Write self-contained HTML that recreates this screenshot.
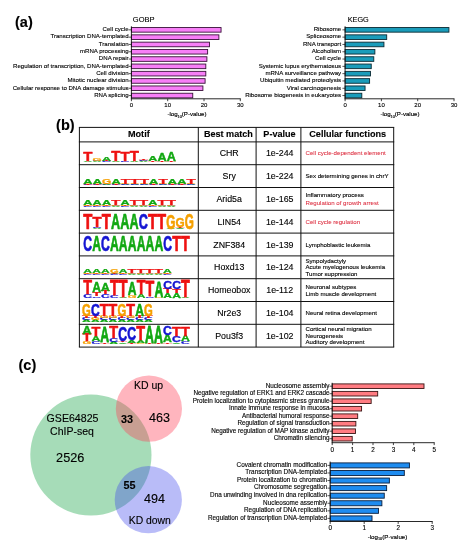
<!DOCTYPE html>
<html lang="en"><head><meta charset="utf-8"><title>Figure</title>
<style>html,body{margin:0;padding:0;background:#fff;}body{width:470px;height:550px;overflow:hidden;}svg{display:block;}text{font-family:'Liberation Sans', Arial, sans-serif;}</style>
</head><body>
<svg width="470" height="550" viewBox="0 0 470 550">
<rect x="0" y="0" width="470" height="550" fill="#ffffff"/>
<text x="15.00" y="26.90" font-size="14.5" text-anchor="start" font-weight="bold" fill="#000" stroke="#000" stroke-width="0.12" >(a)</text>
<text x="56.10" y="129.90" font-size="14.5" text-anchor="start" font-weight="bold" fill="#000" stroke="#000" stroke-width="0.12" >(b)</text>
<text x="18.50" y="369.50" font-size="14.5" text-anchor="start" font-weight="bold" fill="#000" stroke="#000" stroke-width="0.12" >(c)</text>
<rect x="131.40" y="27.55" width="89.66" height="4.60" fill="#f77ff7" stroke="#3a123a" stroke-width="0.9"/>
<line x1="128.70" y1="29.85" x2="131.40" y2="29.85" stroke="#111" stroke-width="0.7"/>
<text x="128.60" y="31.13" font-size="6.08" text-anchor="end" font-weight="normal" fill="#000" stroke="#000" stroke-width="0.12" >Cell cycle</text>
<rect x="131.40" y="34.85" width="87.48" height="4.60" fill="#f77ff7" stroke="#3a123a" stroke-width="0.9"/>
<line x1="128.70" y1="37.15" x2="131.40" y2="37.15" stroke="#111" stroke-width="0.7"/>
<text x="128.60" y="38.43" font-size="6.08" text-anchor="end" font-weight="normal" fill="#000" stroke="#000" stroke-width="0.12" >Transcription DNA-templated</text>
<rect x="131.40" y="42.15" width="78.05" height="4.60" fill="#f77ff7" stroke="#3a123a" stroke-width="0.9"/>
<line x1="128.70" y1="44.45" x2="131.40" y2="44.45" stroke="#111" stroke-width="0.7"/>
<text x="128.60" y="45.73" font-size="6.08" text-anchor="end" font-weight="normal" fill="#000" stroke="#000" stroke-width="0.12" >Translation</text>
<rect x="131.40" y="49.45" width="76.23" height="4.60" fill="#f77ff7" stroke="#3a123a" stroke-width="0.9"/>
<line x1="128.70" y1="51.75" x2="131.40" y2="51.75" stroke="#111" stroke-width="0.7"/>
<text x="128.60" y="53.03" font-size="6.08" text-anchor="end" font-weight="normal" fill="#000" stroke="#000" stroke-width="0.12" >mRNA processing</text>
<rect x="131.40" y="56.75" width="75.50" height="4.60" fill="#f77ff7" stroke="#3a123a" stroke-width="0.9"/>
<line x1="128.70" y1="59.05" x2="131.40" y2="59.05" stroke="#111" stroke-width="0.7"/>
<text x="128.60" y="60.33" font-size="6.08" text-anchor="end" font-weight="normal" fill="#000" stroke="#000" stroke-width="0.12" >DNA repair</text>
<rect x="131.40" y="64.05" width="74.41" height="4.60" fill="#f77ff7" stroke="#3a123a" stroke-width="0.9"/>
<line x1="128.70" y1="66.35" x2="131.40" y2="66.35" stroke="#111" stroke-width="0.7"/>
<text x="128.60" y="67.63" font-size="6.08" text-anchor="end" font-weight="normal" fill="#000" stroke="#000" stroke-width="0.12" >Regulation of transcription, DNA-templated</text>
<rect x="131.40" y="71.35" width="74.41" height="4.60" fill="#f77ff7" stroke="#3a123a" stroke-width="0.9"/>
<line x1="128.70" y1="73.65" x2="131.40" y2="73.65" stroke="#111" stroke-width="0.7"/>
<text x="128.60" y="74.93" font-size="6.08" text-anchor="end" font-weight="normal" fill="#000" stroke="#000" stroke-width="0.12" >Cell division</text>
<rect x="131.40" y="78.65" width="73.69" height="4.60" fill="#f77ff7" stroke="#3a123a" stroke-width="0.9"/>
<line x1="128.70" y1="80.95" x2="131.40" y2="80.95" stroke="#111" stroke-width="0.7"/>
<text x="128.60" y="82.23" font-size="6.08" text-anchor="end" font-weight="normal" fill="#000" stroke="#000" stroke-width="0.12" >Mitotic nuclear division</text>
<rect x="131.40" y="85.95" width="71.51" height="4.60" fill="#f77ff7" stroke="#3a123a" stroke-width="0.9"/>
<line x1="128.70" y1="88.25" x2="131.40" y2="88.25" stroke="#111" stroke-width="0.7"/>
<text x="128.60" y="89.53" font-size="6.08" text-anchor="end" font-weight="normal" fill="#000" stroke="#000" stroke-width="0.12" >Cellular response to DNA damage stimulus</text>
<rect x="131.40" y="93.25" width="61.35" height="4.60" fill="#f77ff7" stroke="#3a123a" stroke-width="0.9"/>
<line x1="128.70" y1="95.55" x2="131.40" y2="95.55" stroke="#111" stroke-width="0.7"/>
<text x="128.60" y="96.83" font-size="6.08" text-anchor="end" font-weight="normal" fill="#000" stroke="#000" stroke-width="0.12" >RNA splicing</text>
<line x1="131.40" y1="26.30" x2="131.40" y2="99.25" stroke="#111" stroke-width="0.9"/>
<line x1="130.95" y1="98.80" x2="240.75" y2="98.80" stroke="#111" stroke-width="0.9"/>
<line x1="131.40" y1="98.80" x2="131.40" y2="101.20" stroke="#111" stroke-width="0.8"/>
<text x="131.40" y="106.60" font-size="6.0" text-anchor="middle" font-weight="normal" fill="#000" stroke="#000" stroke-width="0.12" >0</text>
<line x1="167.70" y1="98.80" x2="167.70" y2="101.20" stroke="#111" stroke-width="0.8"/>
<text x="167.70" y="106.60" font-size="6.0" text-anchor="middle" font-weight="normal" fill="#000" stroke="#000" stroke-width="0.12" >10</text>
<line x1="204.00" y1="98.80" x2="204.00" y2="101.20" stroke="#111" stroke-width="0.8"/>
<text x="204.00" y="106.60" font-size="6.0" text-anchor="middle" font-weight="normal" fill="#000" stroke="#000" stroke-width="0.12" >20</text>
<line x1="240.30" y1="98.80" x2="240.30" y2="101.20" stroke="#111" stroke-width="0.8"/>
<text x="240.30" y="106.60" font-size="6.0" text-anchor="middle" font-weight="normal" fill="#000" stroke="#000" stroke-width="0.12" >30</text>
<text x="187.00" y="116.30" font-size="6.1" text-anchor="middle" fill="#000" stroke="#000" stroke-width="0.15">-log<tspan font-size="3.78" dy="1.34">10</tspan><tspan dy="-1.34">(P-value)</tspan></text>
<text x="132.80" y="21.50" font-size="7.5" text-anchor="start" font-weight="normal" fill="#000" stroke="#000" stroke-width="0.12" >GOBP</text>
<rect x="345.10" y="27.55" width="103.82" height="4.60" fill="#1a9cba" stroke="#0a2a33" stroke-width="0.9"/>
<line x1="342.40" y1="29.85" x2="345.10" y2="29.85" stroke="#111" stroke-width="0.7"/>
<text x="341.10" y="31.13" font-size="6.08" text-anchor="end" font-weight="normal" fill="#000" stroke="#000" stroke-width="0.12" >Ribosome</text>
<rect x="345.10" y="34.85" width="41.60" height="4.60" fill="#1a9cba" stroke="#0a2a33" stroke-width="0.9"/>
<line x1="342.40" y1="37.15" x2="345.10" y2="37.15" stroke="#111" stroke-width="0.7"/>
<text x="341.10" y="38.43" font-size="6.08" text-anchor="end" font-weight="normal" fill="#000" stroke="#000" stroke-width="0.12" >Spliceosome</text>
<rect x="345.10" y="42.15" width="38.84" height="4.60" fill="#1a9cba" stroke="#0a2a33" stroke-width="0.9"/>
<line x1="342.40" y1="44.45" x2="345.10" y2="44.45" stroke="#111" stroke-width="0.7"/>
<text x="341.10" y="45.73" font-size="6.08" text-anchor="end" font-weight="normal" fill="#000" stroke="#000" stroke-width="0.12" >RNA transport</text>
<rect x="345.10" y="49.45" width="29.77" height="4.60" fill="#1a9cba" stroke="#0a2a33" stroke-width="0.9"/>
<line x1="342.40" y1="51.75" x2="345.10" y2="51.75" stroke="#111" stroke-width="0.7"/>
<text x="341.10" y="53.03" font-size="6.08" text-anchor="end" font-weight="normal" fill="#000" stroke="#000" stroke-width="0.12" >Alcoholism</text>
<rect x="345.10" y="56.75" width="28.68" height="4.60" fill="#1a9cba" stroke="#0a2a33" stroke-width="0.9"/>
<line x1="342.40" y1="59.05" x2="345.10" y2="59.05" stroke="#111" stroke-width="0.7"/>
<text x="341.10" y="60.33" font-size="6.08" text-anchor="end" font-weight="normal" fill="#000" stroke="#000" stroke-width="0.12" >Cell cycle</text>
<rect x="345.10" y="64.05" width="26.14" height="4.60" fill="#1a9cba" stroke="#0a2a33" stroke-width="0.9"/>
<line x1="342.40" y1="66.35" x2="345.10" y2="66.35" stroke="#111" stroke-width="0.7"/>
<text x="341.10" y="67.63" font-size="6.08" text-anchor="end" font-weight="normal" fill="#000" stroke="#000" stroke-width="0.12" >Systemic lupus erythematosus</text>
<rect x="345.10" y="71.35" width="25.41" height="4.60" fill="#1a9cba" stroke="#0a2a33" stroke-width="0.9"/>
<line x1="342.40" y1="73.65" x2="345.10" y2="73.65" stroke="#111" stroke-width="0.7"/>
<text x="341.10" y="74.93" font-size="6.08" text-anchor="end" font-weight="normal" fill="#000" stroke="#000" stroke-width="0.12" >mRNA surveillance pathway</text>
<rect x="345.10" y="78.65" width="24.50" height="4.60" fill="#1a9cba" stroke="#0a2a33" stroke-width="0.9"/>
<line x1="342.40" y1="80.95" x2="345.10" y2="80.95" stroke="#111" stroke-width="0.7"/>
<text x="341.10" y="82.23" font-size="6.08" text-anchor="end" font-weight="normal" fill="#000" stroke="#000" stroke-width="0.12" >Ubiquitin mediated proteolysis</text>
<rect x="345.10" y="85.95" width="19.96" height="4.60" fill="#1a9cba" stroke="#0a2a33" stroke-width="0.9"/>
<line x1="342.40" y1="88.25" x2="345.10" y2="88.25" stroke="#111" stroke-width="0.7"/>
<text x="341.10" y="89.53" font-size="6.08" text-anchor="end" font-weight="normal" fill="#000" stroke="#000" stroke-width="0.12" >Viral carcinogenesis</text>
<rect x="345.10" y="93.25" width="16.70" height="4.60" fill="#1a9cba" stroke="#0a2a33" stroke-width="0.9"/>
<line x1="342.40" y1="95.55" x2="345.10" y2="95.55" stroke="#111" stroke-width="0.7"/>
<text x="341.10" y="96.83" font-size="6.08" text-anchor="end" font-weight="normal" fill="#000" stroke="#000" stroke-width="0.12" >Ribosome biogenesis in eukaryotes</text>
<line x1="345.10" y1="26.30" x2="345.10" y2="99.25" stroke="#111" stroke-width="0.9"/>
<line x1="344.65" y1="98.80" x2="454.45" y2="98.80" stroke="#111" stroke-width="0.9"/>
<line x1="345.10" y1="98.80" x2="345.10" y2="101.20" stroke="#111" stroke-width="0.8"/>
<text x="345.10" y="106.60" font-size="6.0" text-anchor="middle" font-weight="normal" fill="#000" stroke="#000" stroke-width="0.12" >0</text>
<line x1="381.40" y1="98.80" x2="381.40" y2="101.20" stroke="#111" stroke-width="0.8"/>
<text x="381.40" y="106.60" font-size="6.0" text-anchor="middle" font-weight="normal" fill="#000" stroke="#000" stroke-width="0.12" >10</text>
<line x1="417.70" y1="98.80" x2="417.70" y2="101.20" stroke="#111" stroke-width="0.8"/>
<text x="417.70" y="106.60" font-size="6.0" text-anchor="middle" font-weight="normal" fill="#000" stroke="#000" stroke-width="0.12" >20</text>
<line x1="454.00" y1="98.80" x2="454.00" y2="101.20" stroke="#111" stroke-width="0.8"/>
<text x="454.00" y="106.60" font-size="6.0" text-anchor="middle" font-weight="normal" fill="#000" stroke="#000" stroke-width="0.12" >30</text>
<text x="400.00" y="116.30" font-size="6.1" text-anchor="middle" fill="#000" stroke="#000" stroke-width="0.15">-log<tspan font-size="3.78" dy="1.34">10</tspan><tspan dy="-1.34">(P-value)</tspan></text>
<text x="347.70" y="21.90" font-size="7.3" text-anchor="start" font-weight="normal" fill="#000" stroke="#000" stroke-width="0.12" >KEGG</text>
<rect x="332.20" y="383.90" width="91.80" height="4.60" fill="#ff7c82" stroke="#3a1414" stroke-width="0.9"/>
<line x1="329.50" y1="386.20" x2="332.20" y2="386.20" stroke="#111" stroke-width="0.7"/>
<text x="329.50" y="387.53" font-size="6.35" text-anchor="end" font-weight="normal" fill="#000" stroke="#000" stroke-width="0.12" >Nucleosome assembly</text>
<rect x="332.20" y="391.40" width="45.49" height="4.60" fill="#ff7c82" stroke="#3a1414" stroke-width="0.9"/>
<line x1="329.50" y1="393.70" x2="332.20" y2="393.70" stroke="#111" stroke-width="0.7"/>
<text x="329.50" y="395.03" font-size="6.35" text-anchor="end" font-weight="normal" fill="#000" stroke="#000" stroke-width="0.12" >Negative regulation of ERK1 and ERK2 cascade</text>
<rect x="332.20" y="398.90" width="38.96" height="4.60" fill="#ff7c82" stroke="#3a1414" stroke-width="0.9"/>
<line x1="329.50" y1="401.20" x2="332.20" y2="401.20" stroke="#111" stroke-width="0.7"/>
<text x="329.50" y="402.53" font-size="6.35" text-anchor="end" font-weight="normal" fill="#000" stroke="#000" stroke-width="0.12" >Protein localization to cytoplasmic stress granule</text>
<rect x="332.20" y="406.40" width="29.38" height="4.60" fill="#ff7c82" stroke="#3a1414" stroke-width="0.9"/>
<line x1="329.50" y1="408.70" x2="332.20" y2="408.70" stroke="#111" stroke-width="0.7"/>
<text x="329.50" y="410.03" font-size="6.35" text-anchor="end" font-weight="normal" fill="#000" stroke="#000" stroke-width="0.12" >Innate immune response in mucosa</text>
<rect x="332.20" y="413.90" width="25.50" height="4.60" fill="#ff7c82" stroke="#3a1414" stroke-width="0.9"/>
<line x1="329.50" y1="416.20" x2="332.20" y2="416.20" stroke="#111" stroke-width="0.7"/>
<text x="329.50" y="417.53" font-size="6.35" text-anchor="end" font-weight="normal" fill="#000" stroke="#000" stroke-width="0.12" >Antibacterial humoral response</text>
<rect x="332.20" y="421.40" width="23.66" height="4.60" fill="#ff7c82" stroke="#3a1414" stroke-width="0.9"/>
<line x1="329.50" y1="423.70" x2="332.20" y2="423.70" stroke="#111" stroke-width="0.7"/>
<text x="329.50" y="425.03" font-size="6.35" text-anchor="end" font-weight="normal" fill="#000" stroke="#000" stroke-width="0.12" >Regulation of signal transduction</text>
<rect x="332.20" y="428.90" width="23.26" height="4.60" fill="#ff7c82" stroke="#3a1414" stroke-width="0.9"/>
<line x1="329.50" y1="431.20" x2="332.20" y2="431.20" stroke="#111" stroke-width="0.7"/>
<text x="329.50" y="432.53" font-size="6.35" text-anchor="end" font-weight="normal" fill="#000" stroke="#000" stroke-width="0.12" >Negative regulation of MAP kinase activity</text>
<rect x="332.20" y="436.40" width="19.99" height="4.60" fill="#ff7c82" stroke="#3a1414" stroke-width="0.9"/>
<line x1="329.50" y1="438.70" x2="332.20" y2="438.70" stroke="#111" stroke-width="0.7"/>
<text x="329.50" y="440.03" font-size="6.35" text-anchor="end" font-weight="normal" fill="#000" stroke="#000" stroke-width="0.12" >Chromatin silencing</text>
<line x1="332.20" y1="382.80" x2="332.20" y2="443.15" stroke="#111" stroke-width="0.9"/>
<line x1="331.75" y1="442.70" x2="434.65" y2="442.70" stroke="#111" stroke-width="0.9"/>
<line x1="332.20" y1="442.70" x2="332.20" y2="445.10" stroke="#111" stroke-width="0.8"/>
<text x="332.20" y="451.80" font-size="6.3" text-anchor="middle" font-weight="normal" fill="#000" stroke="#000" stroke-width="0.12" >0</text>
<line x1="352.60" y1="442.70" x2="352.60" y2="445.10" stroke="#111" stroke-width="0.8"/>
<text x="352.60" y="451.80" font-size="6.3" text-anchor="middle" font-weight="normal" fill="#000" stroke="#000" stroke-width="0.12" >1</text>
<line x1="373.00" y1="442.70" x2="373.00" y2="445.10" stroke="#111" stroke-width="0.8"/>
<text x="373.00" y="451.80" font-size="6.3" text-anchor="middle" font-weight="normal" fill="#000" stroke="#000" stroke-width="0.12" >2</text>
<line x1="393.40" y1="442.70" x2="393.40" y2="445.10" stroke="#111" stroke-width="0.8"/>
<text x="393.40" y="451.80" font-size="6.3" text-anchor="middle" font-weight="normal" fill="#000" stroke="#000" stroke-width="0.12" >3</text>
<line x1="413.80" y1="442.70" x2="413.80" y2="445.10" stroke="#111" stroke-width="0.8"/>
<text x="413.80" y="451.80" font-size="6.3" text-anchor="middle" font-weight="normal" fill="#000" stroke="#000" stroke-width="0.12" >4</text>
<line x1="434.20" y1="442.70" x2="434.20" y2="445.10" stroke="#111" stroke-width="0.8"/>
<text x="434.20" y="451.80" font-size="6.3" text-anchor="middle" font-weight="normal" fill="#000" stroke="#000" stroke-width="0.12" >5</text>
<text x="0.00" y="-100.00" font-size="5.7" text-anchor="middle" fill="#000" stroke="#000" stroke-width="0.15">-log<tspan font-size="3.53" dy="1.25">10</tspan><tspan dy="-1.25">(P-value)</tspan></text>
<rect x="330.20" y="462.90" width="79.22" height="5.00" fill="#1e8cf0" stroke="#0a1e3c" stroke-width="0.9"/>
<line x1="327.50" y1="465.40" x2="330.20" y2="465.40" stroke="#111" stroke-width="0.7"/>
<text x="327.10" y="466.74" font-size="6.37" text-anchor="end" font-weight="normal" fill="#000" stroke="#000" stroke-width="0.12" >Covalent chromatin modification</text>
<rect x="330.20" y="470.47" width="74.12" height="5.00" fill="#1e8cf0" stroke="#0a1e3c" stroke-width="0.9"/>
<line x1="327.50" y1="472.97" x2="330.20" y2="472.97" stroke="#111" stroke-width="0.7"/>
<text x="327.10" y="474.31" font-size="6.37" text-anchor="end" font-weight="normal" fill="#000" stroke="#000" stroke-width="0.12" >Transcription DNA-templated</text>
<rect x="330.20" y="478.04" width="59.16" height="5.00" fill="#1e8cf0" stroke="#0a1e3c" stroke-width="0.9"/>
<line x1="327.50" y1="480.54" x2="330.20" y2="480.54" stroke="#111" stroke-width="0.7"/>
<text x="327.10" y="481.88" font-size="6.37" text-anchor="end" font-weight="normal" fill="#000" stroke="#000" stroke-width="0.12" >Protein localization to chromatin</text>
<rect x="330.20" y="485.61" width="56.44" height="5.00" fill="#1e8cf0" stroke="#0a1e3c" stroke-width="0.9"/>
<line x1="327.50" y1="488.11" x2="330.20" y2="488.11" stroke="#111" stroke-width="0.7"/>
<text x="327.10" y="489.45" font-size="6.37" text-anchor="end" font-weight="normal" fill="#000" stroke="#000" stroke-width="0.12" >Chromosome segregation</text>
<rect x="330.20" y="493.18" width="54.06" height="5.00" fill="#1e8cf0" stroke="#0a1e3c" stroke-width="0.9"/>
<line x1="327.50" y1="495.68" x2="330.20" y2="495.68" stroke="#111" stroke-width="0.7"/>
<text x="327.10" y="497.02" font-size="6.37" text-anchor="end" font-weight="normal" fill="#000" stroke="#000" stroke-width="0.12" >Dna unwinding involved in dna replication</text>
<rect x="330.20" y="500.75" width="51.68" height="5.00" fill="#1e8cf0" stroke="#0a1e3c" stroke-width="0.9"/>
<line x1="327.50" y1="503.25" x2="330.20" y2="503.25" stroke="#111" stroke-width="0.7"/>
<text x="327.10" y="504.59" font-size="6.37" text-anchor="end" font-weight="normal" fill="#000" stroke="#000" stroke-width="0.12" >Nucleosome assembly</text>
<rect x="330.20" y="508.32" width="48.28" height="5.00" fill="#1e8cf0" stroke="#0a1e3c" stroke-width="0.9"/>
<line x1="327.50" y1="510.82" x2="330.20" y2="510.82" stroke="#111" stroke-width="0.7"/>
<text x="327.10" y="512.16" font-size="6.37" text-anchor="end" font-weight="normal" fill="#000" stroke="#000" stroke-width="0.12" >Regulation of DNA replication</text>
<rect x="330.20" y="515.89" width="41.82" height="5.00" fill="#1e8cf0" stroke="#0a1e3c" stroke-width="0.9"/>
<line x1="327.50" y1="518.39" x2="330.20" y2="518.39" stroke="#111" stroke-width="0.7"/>
<text x="327.10" y="519.73" font-size="6.37" text-anchor="end" font-weight="normal" fill="#000" stroke="#000" stroke-width="0.12" >Regulation of transcription DNA-templated</text>
<line x1="330.20" y1="461.60" x2="330.20" y2="521.95" stroke="#111" stroke-width="0.9"/>
<line x1="329.75" y1="521.50" x2="432.65" y2="521.50" stroke="#111" stroke-width="0.9"/>
<line x1="330.20" y1="521.50" x2="330.20" y2="523.90" stroke="#111" stroke-width="0.8"/>
<text x="330.20" y="530.00" font-size="6.3" text-anchor="middle" font-weight="normal" fill="#000" stroke="#000" stroke-width="0.12" >0</text>
<line x1="364.20" y1="521.50" x2="364.20" y2="523.90" stroke="#111" stroke-width="0.8"/>
<text x="364.20" y="530.00" font-size="6.3" text-anchor="middle" font-weight="normal" fill="#000" stroke="#000" stroke-width="0.12" >1</text>
<line x1="398.20" y1="521.50" x2="398.20" y2="523.90" stroke="#111" stroke-width="0.8"/>
<text x="398.20" y="530.00" font-size="6.3" text-anchor="middle" font-weight="normal" fill="#000" stroke="#000" stroke-width="0.12" >2</text>
<line x1="432.20" y1="521.50" x2="432.20" y2="523.90" stroke="#111" stroke-width="0.8"/>
<text x="432.20" y="530.00" font-size="6.3" text-anchor="middle" font-weight="normal" fill="#000" stroke="#000" stroke-width="0.12" >3</text>
<text x="387.50" y="538.80" font-size="6.2" text-anchor="middle" fill="#000" stroke="#000" stroke-width="0.15">-log<tspan font-size="3.84" dy="1.36">10</tspan><tspan dy="-1.36">(P-value)</tspan></text>
<g>
<circle cx="90.9" cy="455" r="60.6" fill="rgb(77,185,113)" fill-opacity="0.5"/>
<circle cx="148.9" cy="408.7" r="33.1" fill="rgb(255,60,85)" fill-opacity="0.38"/>
<circle cx="148.3" cy="499.7" r="33.6" fill="rgb(60,70,235)" fill-opacity="0.36"/>
</g>
<text x="72.50" y="421.90" font-size="10.6" text-anchor="middle" font-weight="normal" fill="#000" stroke="#000" stroke-width="0.12" >GSE64825</text>
<text x="72.00" y="434.50" font-size="10.5" text-anchor="middle" font-weight="normal" fill="#000" stroke="#000" stroke-width="0.12" >ChIP-seq</text>
<text x="70.20" y="462.10" font-size="12.7" text-anchor="middle" font-weight="normal" fill="#000" stroke="#000" stroke-width="0.12" >2526</text>
<text x="148.60" y="389.10" font-size="10.5" text-anchor="middle" font-weight="normal" fill="#000" stroke="#000" stroke-width="0.12" >KD up</text>
<text x="127.00" y="422.60" font-size="10.8" text-anchor="middle" font-weight="bold" fill="#000" stroke="#000" stroke-width="0.12" >33</text>
<text x="159.40" y="421.70" font-size="12.6" text-anchor="middle" font-weight="normal" fill="#000" stroke="#000" stroke-width="0.12" >463</text>
<text x="129.60" y="489.40" font-size="10.8" text-anchor="middle" font-weight="bold" fill="#000" stroke="#000" stroke-width="0.12" >55</text>
<text x="154.60" y="502.50" font-size="12.6" text-anchor="middle" font-weight="normal" fill="#000" stroke="#000" stroke-width="0.12" >494</text>
<text x="149.80" y="523.80" font-size="10.4" text-anchor="middle" font-weight="normal" fill="#000" stroke="#000" stroke-width="0.12" >KD down</text>
<line x1="78.9" y1="127.40" x2="394.2" y2="127.40" stroke="#111" stroke-width="1"/>
<line x1="78.9" y1="141.90" x2="394.2" y2="141.90" stroke="#111" stroke-width="1"/>
<line x1="78.9" y1="164.70" x2="394.2" y2="164.70" stroke="#111" stroke-width="1"/>
<line x1="78.9" y1="187.50" x2="394.2" y2="187.50" stroke="#111" stroke-width="1"/>
<line x1="78.9" y1="210.30" x2="394.2" y2="210.30" stroke="#111" stroke-width="1"/>
<line x1="78.9" y1="233.10" x2="394.2" y2="233.10" stroke="#111" stroke-width="1"/>
<line x1="78.9" y1="255.90" x2="394.2" y2="255.90" stroke="#111" stroke-width="1"/>
<line x1="78.9" y1="278.70" x2="394.2" y2="278.70" stroke="#111" stroke-width="1"/>
<line x1="78.9" y1="301.50" x2="394.2" y2="301.50" stroke="#111" stroke-width="1"/>
<line x1="78.9" y1="324.30" x2="394.2" y2="324.30" stroke="#111" stroke-width="1"/>
<line x1="78.9" y1="347.10" x2="394.2" y2="347.10" stroke="#111" stroke-width="1"/>
<line x1="79.4" y1="127.40" x2="79.4" y2="347.10" stroke="#111" stroke-width="1"/>
<line x1="198.3" y1="127.40" x2="198.3" y2="347.10" stroke="#111" stroke-width="1"/>
<line x1="256.1" y1="127.40" x2="256.1" y2="347.10" stroke="#111" stroke-width="1"/>
<line x1="300.9" y1="127.40" x2="300.9" y2="347.10" stroke="#111" stroke-width="1"/>
<line x1="393.7" y1="127.40" x2="393.7" y2="347.10" stroke="#111" stroke-width="1"/>
<text x="138.85" y="137.00" font-size="9.1" text-anchor="middle" font-weight="bold" fill="#000" stroke="#000" stroke-width="0.12" >Motif</text>
<text x="228.40" y="137.00" font-size="9.1" text-anchor="middle" font-weight="bold" fill="#000" stroke="#000" stroke-width="0.12" >Best match</text>
<text x="279.50" y="137.00" font-size="9.1" text-anchor="middle" font-weight="bold" fill="#000" stroke="#000" stroke-width="0.12" >P-value</text>
<text x="347.70" y="137.00" font-size="9.1" text-anchor="middle" font-weight="bold" fill="#000" stroke="#000" stroke-width="0.12" >Cellular functions</text>
<text x="229.20" y="156.40" font-size="8.8" text-anchor="middle" font-weight="normal" fill="#000" stroke="#000" stroke-width="0.12" >CHR</text>
<text x="279.70" y="156.40" font-size="8.9" text-anchor="middle" font-weight="normal" fill="#000" stroke="#000" stroke-width="0.12" >1e-244</text>
<text x="305.50" y="155.40" font-size="6.1" text-anchor="start" font-weight="normal" fill="#dc2a3c" stroke="#dc2a3c" stroke-width="0.05" >Cell cycle-dependent element</text>
<text x="229.20" y="179.20" font-size="8.8" text-anchor="middle" font-weight="normal" fill="#000" stroke="#000" stroke-width="0.12" >Sry</text>
<text x="279.70" y="179.20" font-size="8.9" text-anchor="middle" font-weight="normal" fill="#000" stroke="#000" stroke-width="0.12" >1e-224</text>
<text x="305.50" y="178.20" font-size="6.1" text-anchor="start" font-weight="normal" fill="#000" stroke="#000" stroke-width="0.12" >Sex determining genes in chrY</text>
<text x="229.20" y="202.00" font-size="8.8" text-anchor="middle" font-weight="normal" fill="#000" stroke="#000" stroke-width="0.12" >Arid5a</text>
<text x="279.70" y="202.00" font-size="8.9" text-anchor="middle" font-weight="normal" fill="#000" stroke="#000" stroke-width="0.12" >1e-165</text>
<text x="305.50" y="197.40" font-size="6.1" text-anchor="start" font-weight="normal" fill="#000" stroke="#000" stroke-width="0.12" >Inflammatory process</text>
<text x="305.50" y="204.60" font-size="6.1" text-anchor="start" font-weight="normal" fill="#dc2a3c" stroke="#dc2a3c" stroke-width="0.05" >Regulation of growth arrest</text>
<text x="229.20" y="224.80" font-size="8.8" text-anchor="middle" font-weight="normal" fill="#000" stroke="#000" stroke-width="0.12" >LIN54</text>
<text x="279.70" y="224.80" font-size="8.9" text-anchor="middle" font-weight="normal" fill="#000" stroke="#000" stroke-width="0.12" >1e-144</text>
<text x="305.50" y="223.80" font-size="6.1" text-anchor="start" font-weight="normal" fill="#dc2a3c" stroke="#dc2a3c" stroke-width="0.05" >Cell cycle regulation</text>
<text x="229.20" y="247.60" font-size="8.8" text-anchor="middle" font-weight="normal" fill="#000" stroke="#000" stroke-width="0.12" >ZNF384</text>
<text x="279.70" y="247.60" font-size="8.9" text-anchor="middle" font-weight="normal" fill="#000" stroke="#000" stroke-width="0.12" >1e-139</text>
<text x="305.50" y="246.60" font-size="6.1" text-anchor="start" font-weight="normal" fill="#000" stroke="#000" stroke-width="0.12" >Lymphoblastic leukemia</text>
<text x="229.20" y="270.40" font-size="8.8" text-anchor="middle" font-weight="normal" fill="#000" stroke="#000" stroke-width="0.12" >Hoxd13</text>
<text x="279.70" y="270.40" font-size="8.9" text-anchor="middle" font-weight="normal" fill="#000" stroke="#000" stroke-width="0.12" >1e-124</text>
<text x="305.50" y="262.75" font-size="6.1" text-anchor="start" font-weight="normal" fill="#000" stroke="#000" stroke-width="0.12" >Synpolydactyly</text>
<text x="305.50" y="269.40" font-size="6.1" text-anchor="start" font-weight="normal" fill="#000" stroke="#000" stroke-width="0.12" >Acute myelogenous leukemia</text>
<text x="305.50" y="276.05" font-size="6.1" text-anchor="start" font-weight="normal" fill="#000" stroke="#000" stroke-width="0.12" >Tumor suppression</text>
<text x="229.20" y="293.20" font-size="8.8" text-anchor="middle" font-weight="normal" fill="#000" stroke="#000" stroke-width="0.12" >Homeobox</text>
<text x="279.70" y="293.20" font-size="8.9" text-anchor="middle" font-weight="normal" fill="#000" stroke="#000" stroke-width="0.12" >1e-112</text>
<text x="305.50" y="288.60" font-size="6.1" text-anchor="start" font-weight="normal" fill="#000" stroke="#000" stroke-width="0.12" >Neuronal subtypes</text>
<text x="305.50" y="295.80" font-size="6.1" text-anchor="start" font-weight="normal" fill="#000" stroke="#000" stroke-width="0.12" >Limb muscle development</text>
<text x="229.20" y="316.00" font-size="8.8" text-anchor="middle" font-weight="normal" fill="#000" stroke="#000" stroke-width="0.12" >Nr2e3</text>
<text x="279.70" y="316.00" font-size="8.9" text-anchor="middle" font-weight="normal" fill="#000" stroke="#000" stroke-width="0.12" >1e-104</text>
<text x="305.50" y="315.00" font-size="6.1" text-anchor="start" font-weight="normal" fill="#000" stroke="#000" stroke-width="0.12" >Neural retina development</text>
<text x="229.20" y="338.80" font-size="8.8" text-anchor="middle" font-weight="normal" fill="#000" stroke="#000" stroke-width="0.12" >Pou3f3</text>
<text x="279.70" y="338.80" font-size="8.9" text-anchor="middle" font-weight="normal" fill="#000" stroke="#000" stroke-width="0.12" >1e-102</text>
<text x="305.50" y="331.15" font-size="6.1" text-anchor="start" font-weight="normal" fill="#000" stroke="#000" stroke-width="0.12" >Cortical neural migration</text>
<text x="305.50" y="337.80" font-size="6.1" text-anchor="start" font-weight="normal" fill="#000" stroke="#000" stroke-width="0.12" >Neurogenesis</text>
<text x="305.50" y="344.45" font-size="6.1" text-anchor="start" font-weight="normal" fill="#000" stroke="#000" stroke-width="0.12" >Auditory development</text>
<text transform="translate(83.35,162.30) scale(1.270,0.131)" font-size="10" font-weight="bold" fill="#12a812" stroke="#12a812" stroke-width="0.35" stroke-linejoin="round">A</text>
<text transform="translate(83.35,161.40) scale(1.501,1.221)" font-size="10" font-weight="bold" fill="#ee1111" stroke="#ee1111" stroke-width="0.35" stroke-linejoin="round">T</text>
<text transform="translate(92.62,162.30) scale(1.270,0.131)" font-size="10" font-weight="bold" fill="#12a812" stroke="#12a812" stroke-width="0.35" stroke-linejoin="round">A</text>
<text transform="translate(92.62,161.40) scale(1.270,0.131)" font-size="10" font-weight="bold" fill="#1414d2" stroke="#1414d2" stroke-width="0.35" stroke-linejoin="round">C</text>
<text transform="translate(92.62,160.50) scale(1.179,0.291)" font-size="10" font-weight="bold" fill="#f5a000" stroke="#f5a000" stroke-width="0.35" stroke-linejoin="round">G</text>
<text transform="translate(101.89,162.30) scale(1.270,0.131)" font-size="10" font-weight="bold" fill="#1414d2" stroke="#1414d2" stroke-width="0.35" stroke-linejoin="round">C</text>
<text transform="translate(101.89,161.40) scale(1.501,0.131)" font-size="10" font-weight="bold" fill="#ee1111" stroke="#ee1111" stroke-width="0.35" stroke-linejoin="round">T</text>
<text transform="translate(101.89,160.50) scale(1.270,0.465)" font-size="10" font-weight="bold" fill="#12a812" stroke="#12a812" stroke-width="0.35" stroke-linejoin="round">A</text>
<text transform="translate(111.16,162.30) scale(1.270,0.131)" font-size="10" font-weight="bold" fill="#12a812" stroke="#12a812" stroke-width="0.35" stroke-linejoin="round">A</text>
<text transform="translate(111.16,161.40) scale(1.501,1.497)" font-size="10" font-weight="bold" fill="#ee1111" stroke="#ee1111" stroke-width="0.35" stroke-linejoin="round">T</text>
<text transform="translate(120.43,162.30) scale(1.270,0.131)" font-size="10" font-weight="bold" fill="#1414d2" stroke="#1414d2" stroke-width="0.35" stroke-linejoin="round">C</text>
<text transform="translate(120.43,161.40) scale(1.501,1.308)" font-size="10" font-weight="bold" fill="#ee1111" stroke="#ee1111" stroke-width="0.35" stroke-linejoin="round">T</text>
<text transform="translate(129.70,162.30) scale(1.270,0.131)" font-size="10" font-weight="bold" fill="#12a812" stroke="#12a812" stroke-width="0.35" stroke-linejoin="round">A</text>
<text transform="translate(129.70,161.40) scale(1.501,1.541)" font-size="10" font-weight="bold" fill="#ee1111" stroke="#ee1111" stroke-width="0.35" stroke-linejoin="round">T</text>
<text transform="translate(138.97,162.30) scale(1.270,0.131)" font-size="10" font-weight="bold" fill="#12a812" stroke="#12a812" stroke-width="0.35" stroke-linejoin="round">A</text>
<text transform="translate(138.97,161.40) scale(1.179,0.131)" font-size="10" font-weight="bold" fill="#f5a000" stroke="#f5a000" stroke-width="0.35" stroke-linejoin="round">G</text>
<text transform="translate(138.97,160.50) scale(1.270,0.145)" font-size="10" font-weight="bold" fill="#1414d2" stroke="#1414d2" stroke-width="0.35" stroke-linejoin="round">C</text>
<text transform="translate(138.97,159.50) scale(1.501,0.203)" font-size="10" font-weight="bold" fill="#ee1111" stroke="#ee1111" stroke-width="0.35" stroke-linejoin="round">T</text>
<text transform="translate(148.24,162.30) scale(1.501,0.131)" font-size="10" font-weight="bold" fill="#ee1111" stroke="#ee1111" stroke-width="0.35" stroke-linejoin="round">T</text>
<text transform="translate(148.24,161.40) scale(1.270,0.683)" font-size="10" font-weight="bold" fill="#12a812" stroke="#12a812" stroke-width="0.35" stroke-linejoin="round">A</text>
<text transform="translate(157.51,162.30) scale(1.501,0.131)" font-size="10" font-weight="bold" fill="#ee1111" stroke="#ee1111" stroke-width="0.35" stroke-linejoin="round">T</text>
<text transform="translate(157.51,161.40) scale(1.270,1.017)" font-size="10" font-weight="bold" fill="#12a812" stroke="#12a812" stroke-width="0.35" stroke-linejoin="round">A</text>
<text transform="translate(166.78,162.30) scale(1.501,0.131)" font-size="10" font-weight="bold" fill="#ee1111" stroke="#ee1111" stroke-width="0.35" stroke-linejoin="round">T</text>
<text transform="translate(166.78,161.40) scale(1.270,1.279)" font-size="10" font-weight="bold" fill="#12a812" stroke="#12a812" stroke-width="0.35" stroke-linejoin="round">A</text>
<text transform="translate(83.35,185.00) scale(1.285,0.073)" font-size="10" font-weight="bold" fill="#1414d2" stroke="#1414d2" stroke-width="0.35" stroke-linejoin="round">C</text>
<text transform="translate(83.35,184.50) scale(1.519,0.073)" font-size="10" font-weight="bold" fill="#ee1111" stroke="#ee1111" stroke-width="0.35" stroke-linejoin="round">T</text>
<text transform="translate(83.35,184.00) scale(1.193,0.073)" font-size="10" font-weight="bold" fill="#f5a000" stroke="#f5a000" stroke-width="0.35" stroke-linejoin="round">G</text>
<text transform="translate(83.35,183.50) scale(1.285,0.640)" font-size="10" font-weight="bold" fill="#12a812" stroke="#12a812" stroke-width="0.35" stroke-linejoin="round">A</text>
<text transform="translate(92.73,185.00) scale(1.285,0.073)" font-size="10" font-weight="bold" fill="#1414d2" stroke="#1414d2" stroke-width="0.35" stroke-linejoin="round">C</text>
<text transform="translate(92.73,184.50) scale(1.519,0.073)" font-size="10" font-weight="bold" fill="#ee1111" stroke="#ee1111" stroke-width="0.35" stroke-linejoin="round">T</text>
<text transform="translate(92.73,184.00) scale(1.193,0.073)" font-size="10" font-weight="bold" fill="#f5a000" stroke="#f5a000" stroke-width="0.35" stroke-linejoin="round">G</text>
<text transform="translate(92.73,183.50) scale(1.285,0.640)" font-size="10" font-weight="bold" fill="#12a812" stroke="#12a812" stroke-width="0.35" stroke-linejoin="round">A</text>
<text transform="translate(102.11,185.00) scale(1.285,0.073)" font-size="10" font-weight="bold" fill="#1414d2" stroke="#1414d2" stroke-width="0.35" stroke-linejoin="round">C</text>
<text transform="translate(102.11,184.50) scale(1.285,0.073)" font-size="10" font-weight="bold" fill="#12a812" stroke="#12a812" stroke-width="0.35" stroke-linejoin="round">A</text>
<text transform="translate(102.11,184.00) scale(1.519,0.073)" font-size="10" font-weight="bold" fill="#ee1111" stroke="#ee1111" stroke-width="0.35" stroke-linejoin="round">T</text>
<text transform="translate(102.11,183.50) scale(1.193,0.640)" font-size="10" font-weight="bold" fill="#f5a000" stroke="#f5a000" stroke-width="0.35" stroke-linejoin="round">G</text>
<text transform="translate(111.49,185.00) scale(1.285,0.073)" font-size="10" font-weight="bold" fill="#1414d2" stroke="#1414d2" stroke-width="0.35" stroke-linejoin="round">C</text>
<text transform="translate(111.49,184.50) scale(1.519,0.073)" font-size="10" font-weight="bold" fill="#ee1111" stroke="#ee1111" stroke-width="0.35" stroke-linejoin="round">T</text>
<text transform="translate(111.49,184.00) scale(1.193,0.073)" font-size="10" font-weight="bold" fill="#f5a000" stroke="#f5a000" stroke-width="0.35" stroke-linejoin="round">G</text>
<text transform="translate(111.49,183.50) scale(1.285,0.640)" font-size="10" font-weight="bold" fill="#12a812" stroke="#12a812" stroke-width="0.35" stroke-linejoin="round">A</text>
<text transform="translate(120.87,185.00) scale(1.285,0.073)" font-size="10" font-weight="bold" fill="#12a812" stroke="#12a812" stroke-width="0.35" stroke-linejoin="round">A</text>
<text transform="translate(120.87,184.50) scale(1.285,0.073)" font-size="10" font-weight="bold" fill="#1414d2" stroke="#1414d2" stroke-width="0.35" stroke-linejoin="round">C</text>
<text transform="translate(120.87,184.00) scale(1.193,0.073)" font-size="10" font-weight="bold" fill="#f5a000" stroke="#f5a000" stroke-width="0.35" stroke-linejoin="round">G</text>
<text transform="translate(120.87,183.50) scale(1.519,0.640)" font-size="10" font-weight="bold" fill="#ee1111" stroke="#ee1111" stroke-width="0.35" stroke-linejoin="round">T</text>
<text transform="translate(130.25,185.00) scale(1.285,0.073)" font-size="10" font-weight="bold" fill="#12a812" stroke="#12a812" stroke-width="0.35" stroke-linejoin="round">A</text>
<text transform="translate(130.25,184.50) scale(1.285,0.073)" font-size="10" font-weight="bold" fill="#1414d2" stroke="#1414d2" stroke-width="0.35" stroke-linejoin="round">C</text>
<text transform="translate(130.25,184.00) scale(1.193,0.073)" font-size="10" font-weight="bold" fill="#f5a000" stroke="#f5a000" stroke-width="0.35" stroke-linejoin="round">G</text>
<text transform="translate(130.25,183.50) scale(1.519,0.640)" font-size="10" font-weight="bold" fill="#ee1111" stroke="#ee1111" stroke-width="0.35" stroke-linejoin="round">T</text>
<text transform="translate(139.63,185.00) scale(1.285,0.073)" font-size="10" font-weight="bold" fill="#12a812" stroke="#12a812" stroke-width="0.35" stroke-linejoin="round">A</text>
<text transform="translate(139.63,184.50) scale(1.285,0.073)" font-size="10" font-weight="bold" fill="#1414d2" stroke="#1414d2" stroke-width="0.35" stroke-linejoin="round">C</text>
<text transform="translate(139.63,184.00) scale(1.193,0.073)" font-size="10" font-weight="bold" fill="#f5a000" stroke="#f5a000" stroke-width="0.35" stroke-linejoin="round">G</text>
<text transform="translate(139.63,183.50) scale(1.519,0.640)" font-size="10" font-weight="bold" fill="#ee1111" stroke="#ee1111" stroke-width="0.35" stroke-linejoin="round">T</text>
<text transform="translate(149.01,185.00) scale(1.285,0.073)" font-size="10" font-weight="bold" fill="#1414d2" stroke="#1414d2" stroke-width="0.35" stroke-linejoin="round">C</text>
<text transform="translate(149.01,184.50) scale(1.519,0.073)" font-size="10" font-weight="bold" fill="#ee1111" stroke="#ee1111" stroke-width="0.35" stroke-linejoin="round">T</text>
<text transform="translate(149.01,184.00) scale(1.193,0.073)" font-size="10" font-weight="bold" fill="#f5a000" stroke="#f5a000" stroke-width="0.35" stroke-linejoin="round">G</text>
<text transform="translate(149.01,183.50) scale(1.285,0.640)" font-size="10" font-weight="bold" fill="#12a812" stroke="#12a812" stroke-width="0.35" stroke-linejoin="round">A</text>
<text transform="translate(158.39,185.00) scale(1.285,0.073)" font-size="10" font-weight="bold" fill="#12a812" stroke="#12a812" stroke-width="0.35" stroke-linejoin="round">A</text>
<text transform="translate(158.39,184.50) scale(1.285,0.073)" font-size="10" font-weight="bold" fill="#1414d2" stroke="#1414d2" stroke-width="0.35" stroke-linejoin="round">C</text>
<text transform="translate(158.39,184.00) scale(1.193,0.073)" font-size="10" font-weight="bold" fill="#f5a000" stroke="#f5a000" stroke-width="0.35" stroke-linejoin="round">G</text>
<text transform="translate(158.39,183.50) scale(1.519,0.640)" font-size="10" font-weight="bold" fill="#ee1111" stroke="#ee1111" stroke-width="0.35" stroke-linejoin="round">T</text>
<text transform="translate(167.77,185.00) scale(1.285,0.073)" font-size="10" font-weight="bold" fill="#1414d2" stroke="#1414d2" stroke-width="0.35" stroke-linejoin="round">C</text>
<text transform="translate(167.77,184.50) scale(1.519,0.073)" font-size="10" font-weight="bold" fill="#ee1111" stroke="#ee1111" stroke-width="0.35" stroke-linejoin="round">T</text>
<text transform="translate(167.77,184.00) scale(1.193,0.073)" font-size="10" font-weight="bold" fill="#f5a000" stroke="#f5a000" stroke-width="0.35" stroke-linejoin="round">G</text>
<text transform="translate(167.77,183.50) scale(1.285,0.640)" font-size="10" font-weight="bold" fill="#12a812" stroke="#12a812" stroke-width="0.35" stroke-linejoin="round">A</text>
<text transform="translate(177.15,185.00) scale(1.285,0.073)" font-size="10" font-weight="bold" fill="#1414d2" stroke="#1414d2" stroke-width="0.35" stroke-linejoin="round">C</text>
<text transform="translate(177.15,184.50) scale(1.519,0.073)" font-size="10" font-weight="bold" fill="#ee1111" stroke="#ee1111" stroke-width="0.35" stroke-linejoin="round">T</text>
<text transform="translate(177.15,184.00) scale(1.193,0.073)" font-size="10" font-weight="bold" fill="#f5a000" stroke="#f5a000" stroke-width="0.35" stroke-linejoin="round">G</text>
<text transform="translate(177.15,183.50) scale(1.285,0.640)" font-size="10" font-weight="bold" fill="#12a812" stroke="#12a812" stroke-width="0.35" stroke-linejoin="round">A</text>
<text transform="translate(186.53,185.00) scale(1.285,0.073)" font-size="10" font-weight="bold" fill="#12a812" stroke="#12a812" stroke-width="0.35" stroke-linejoin="round">A</text>
<text transform="translate(186.53,184.50) scale(1.285,0.073)" font-size="10" font-weight="bold" fill="#1414d2" stroke="#1414d2" stroke-width="0.35" stroke-linejoin="round">C</text>
<text transform="translate(186.53,184.00) scale(1.193,0.073)" font-size="10" font-weight="bold" fill="#f5a000" stroke="#f5a000" stroke-width="0.35" stroke-linejoin="round">G</text>
<text transform="translate(186.53,183.50) scale(1.519,0.640)" font-size="10" font-weight="bold" fill="#ee1111" stroke="#ee1111" stroke-width="0.35" stroke-linejoin="round">T</text>
<text transform="translate(83.35,206.70) scale(1.270,0.073)" font-size="10" font-weight="bold" fill="#1414d2" stroke="#1414d2" stroke-width="0.35" stroke-linejoin="round">C</text>
<text transform="translate(83.35,206.20) scale(1.501,0.073)" font-size="10" font-weight="bold" fill="#ee1111" stroke="#ee1111" stroke-width="0.35" stroke-linejoin="round">T</text>
<text transform="translate(83.35,205.70) scale(1.179,0.073)" font-size="10" font-weight="bold" fill="#f5a000" stroke="#f5a000" stroke-width="0.35" stroke-linejoin="round">G</text>
<text transform="translate(83.35,205.20) scale(1.270,0.654)" font-size="10" font-weight="bold" fill="#12a812" stroke="#12a812" stroke-width="0.35" stroke-linejoin="round">A</text>
<text transform="translate(92.62,206.70) scale(1.270,0.073)" font-size="10" font-weight="bold" fill="#1414d2" stroke="#1414d2" stroke-width="0.35" stroke-linejoin="round">C</text>
<text transform="translate(92.62,206.20) scale(1.501,0.073)" font-size="10" font-weight="bold" fill="#ee1111" stroke="#ee1111" stroke-width="0.35" stroke-linejoin="round">T</text>
<text transform="translate(92.62,205.70) scale(1.179,0.073)" font-size="10" font-weight="bold" fill="#f5a000" stroke="#f5a000" stroke-width="0.35" stroke-linejoin="round">G</text>
<text transform="translate(92.62,205.20) scale(1.270,0.654)" font-size="10" font-weight="bold" fill="#12a812" stroke="#12a812" stroke-width="0.35" stroke-linejoin="round">A</text>
<text transform="translate(101.89,206.70) scale(1.270,0.073)" font-size="10" font-weight="bold" fill="#1414d2" stroke="#1414d2" stroke-width="0.35" stroke-linejoin="round">C</text>
<text transform="translate(101.89,206.20) scale(1.501,0.073)" font-size="10" font-weight="bold" fill="#ee1111" stroke="#ee1111" stroke-width="0.35" stroke-linejoin="round">T</text>
<text transform="translate(101.89,205.70) scale(1.179,0.073)" font-size="10" font-weight="bold" fill="#f5a000" stroke="#f5a000" stroke-width="0.35" stroke-linejoin="round">G</text>
<text transform="translate(101.89,205.20) scale(1.270,0.654)" font-size="10" font-weight="bold" fill="#12a812" stroke="#12a812" stroke-width="0.35" stroke-linejoin="round">A</text>
<text transform="translate(111.16,206.70) scale(1.270,0.073)" font-size="10" font-weight="bold" fill="#12a812" stroke="#12a812" stroke-width="0.35" stroke-linejoin="round">A</text>
<text transform="translate(111.16,206.20) scale(1.270,0.073)" font-size="10" font-weight="bold" fill="#1414d2" stroke="#1414d2" stroke-width="0.35" stroke-linejoin="round">C</text>
<text transform="translate(111.16,205.70) scale(1.179,0.073)" font-size="10" font-weight="bold" fill="#f5a000" stroke="#f5a000" stroke-width="0.35" stroke-linejoin="round">G</text>
<text transform="translate(111.16,205.20) scale(1.501,0.654)" font-size="10" font-weight="bold" fill="#ee1111" stroke="#ee1111" stroke-width="0.35" stroke-linejoin="round">T</text>
<text transform="translate(120.43,206.70) scale(1.270,0.073)" font-size="10" font-weight="bold" fill="#1414d2" stroke="#1414d2" stroke-width="0.35" stroke-linejoin="round">C</text>
<text transform="translate(120.43,206.20) scale(1.501,0.073)" font-size="10" font-weight="bold" fill="#ee1111" stroke="#ee1111" stroke-width="0.35" stroke-linejoin="round">T</text>
<text transform="translate(120.43,205.70) scale(1.179,0.073)" font-size="10" font-weight="bold" fill="#f5a000" stroke="#f5a000" stroke-width="0.35" stroke-linejoin="round">G</text>
<text transform="translate(120.43,205.20) scale(1.270,0.654)" font-size="10" font-weight="bold" fill="#12a812" stroke="#12a812" stroke-width="0.35" stroke-linejoin="round">A</text>
<text transform="translate(129.70,206.70) scale(1.270,0.073)" font-size="10" font-weight="bold" fill="#12a812" stroke="#12a812" stroke-width="0.35" stroke-linejoin="round">A</text>
<text transform="translate(129.70,206.20) scale(1.270,0.073)" font-size="10" font-weight="bold" fill="#1414d2" stroke="#1414d2" stroke-width="0.35" stroke-linejoin="round">C</text>
<text transform="translate(129.70,205.70) scale(1.179,0.073)" font-size="10" font-weight="bold" fill="#f5a000" stroke="#f5a000" stroke-width="0.35" stroke-linejoin="round">G</text>
<text transform="translate(129.70,205.20) scale(1.501,0.654)" font-size="10" font-weight="bold" fill="#ee1111" stroke="#ee1111" stroke-width="0.35" stroke-linejoin="round">T</text>
<text transform="translate(138.97,206.70) scale(1.270,0.073)" font-size="10" font-weight="bold" fill="#12a812" stroke="#12a812" stroke-width="0.35" stroke-linejoin="round">A</text>
<text transform="translate(138.97,206.20) scale(1.270,0.073)" font-size="10" font-weight="bold" fill="#1414d2" stroke="#1414d2" stroke-width="0.35" stroke-linejoin="round">C</text>
<text transform="translate(138.97,205.70) scale(1.179,0.073)" font-size="10" font-weight="bold" fill="#f5a000" stroke="#f5a000" stroke-width="0.35" stroke-linejoin="round">G</text>
<text transform="translate(138.97,205.20) scale(1.501,0.654)" font-size="10" font-weight="bold" fill="#ee1111" stroke="#ee1111" stroke-width="0.35" stroke-linejoin="round">T</text>
<text transform="translate(148.24,206.70) scale(1.270,0.073)" font-size="10" font-weight="bold" fill="#1414d2" stroke="#1414d2" stroke-width="0.35" stroke-linejoin="round">C</text>
<text transform="translate(148.24,206.20) scale(1.501,0.073)" font-size="10" font-weight="bold" fill="#ee1111" stroke="#ee1111" stroke-width="0.35" stroke-linejoin="round">T</text>
<text transform="translate(148.24,205.70) scale(1.179,0.073)" font-size="10" font-weight="bold" fill="#f5a000" stroke="#f5a000" stroke-width="0.35" stroke-linejoin="round">G</text>
<text transform="translate(148.24,205.20) scale(1.270,0.654)" font-size="10" font-weight="bold" fill="#12a812" stroke="#12a812" stroke-width="0.35" stroke-linejoin="round">A</text>
<text transform="translate(157.51,206.70) scale(1.270,0.073)" font-size="10" font-weight="bold" fill="#12a812" stroke="#12a812" stroke-width="0.35" stroke-linejoin="round">A</text>
<text transform="translate(157.51,206.20) scale(1.270,0.073)" font-size="10" font-weight="bold" fill="#1414d2" stroke="#1414d2" stroke-width="0.35" stroke-linejoin="round">C</text>
<text transform="translate(157.51,205.70) scale(1.179,0.073)" font-size="10" font-weight="bold" fill="#f5a000" stroke="#f5a000" stroke-width="0.35" stroke-linejoin="round">G</text>
<text transform="translate(157.51,205.20) scale(1.501,0.654)" font-size="10" font-weight="bold" fill="#ee1111" stroke="#ee1111" stroke-width="0.35" stroke-linejoin="round">T</text>
<text transform="translate(166.78,206.70) scale(1.270,0.073)" font-size="10" font-weight="bold" fill="#12a812" stroke="#12a812" stroke-width="0.35" stroke-linejoin="round">A</text>
<text transform="translate(166.78,206.20) scale(1.270,0.073)" font-size="10" font-weight="bold" fill="#1414d2" stroke="#1414d2" stroke-width="0.35" stroke-linejoin="round">C</text>
<text transform="translate(166.78,205.70) scale(1.179,0.073)" font-size="10" font-weight="bold" fill="#f5a000" stroke="#f5a000" stroke-width="0.35" stroke-linejoin="round">G</text>
<text transform="translate(166.78,205.20) scale(1.501,0.654)" font-size="10" font-weight="bold" fill="#ee1111" stroke="#ee1111" stroke-width="0.35" stroke-linejoin="round">T</text>
<text transform="translate(83.35,229.30) scale(1.493,2.122)" font-size="10" font-weight="bold" fill="#ee1111" stroke="#ee1111" stroke-width="0.35" stroke-linejoin="round">T</text>
<text transform="translate(92.57,229.30) scale(1.263,0.174)" font-size="10" font-weight="bold" fill="#12a812" stroke="#12a812" stroke-width="0.35" stroke-linejoin="round">A</text>
<text transform="translate(92.57,228.10) scale(1.263,0.174)" font-size="10" font-weight="bold" fill="#1414d2" stroke="#1414d2" stroke-width="0.35" stroke-linejoin="round">C</text>
<text transform="translate(92.57,226.90) scale(1.493,1.541)" font-size="10" font-weight="bold" fill="#ee1111" stroke="#ee1111" stroke-width="0.35" stroke-linejoin="round">T</text>
<text transform="translate(101.79,229.30) scale(1.493,2.122)" font-size="10" font-weight="bold" fill="#ee1111" stroke="#ee1111" stroke-width="0.35" stroke-linejoin="round">T</text>
<text transform="translate(111.01,229.30) scale(1.263,2.122)" font-size="10" font-weight="bold" fill="#12a812" stroke="#12a812" stroke-width="0.35" stroke-linejoin="round">A</text>
<text transform="translate(120.23,229.30) scale(1.263,2.122)" font-size="10" font-weight="bold" fill="#12a812" stroke="#12a812" stroke-width="0.35" stroke-linejoin="round">A</text>
<text transform="translate(129.45,229.30) scale(1.263,2.122)" font-size="10" font-weight="bold" fill="#12a812" stroke="#12a812" stroke-width="0.35" stroke-linejoin="round">A</text>
<text transform="translate(138.67,229.30) scale(1.263,2.122)" font-size="10" font-weight="bold" fill="#1414d2" stroke="#1414d2" stroke-width="0.35" stroke-linejoin="round">C</text>
<text transform="translate(147.89,229.30) scale(1.493,2.122)" font-size="10" font-weight="bold" fill="#ee1111" stroke="#ee1111" stroke-width="0.35" stroke-linejoin="round">T</text>
<text transform="translate(157.11,229.30) scale(1.493,2.122)" font-size="10" font-weight="bold" fill="#ee1111" stroke="#ee1111" stroke-width="0.35" stroke-linejoin="round">T</text>
<text transform="translate(166.33,229.30) scale(1.263,0.116)" font-size="10" font-weight="bold" fill="#12a812" stroke="#12a812" stroke-width="0.35" stroke-linejoin="round">A</text>
<text transform="translate(166.33,228.50) scale(1.173,1.977)" font-size="10" font-weight="bold" fill="#f5a000" stroke="#f5a000" stroke-width="0.35" stroke-linejoin="round">G</text>
<text transform="translate(175.55,229.30) scale(1.263,0.203)" font-size="10" font-weight="bold" fill="#12a812" stroke="#12a812" stroke-width="0.35" stroke-linejoin="round">A</text>
<text transform="translate(175.55,227.90) scale(1.493,0.203)" font-size="10" font-weight="bold" fill="#ee1111" stroke="#ee1111" stroke-width="0.35" stroke-linejoin="round">T</text>
<text transform="translate(175.55,226.50) scale(1.173,1.250)" font-size="10" font-weight="bold" fill="#f5a000" stroke="#f5a000" stroke-width="0.35" stroke-linejoin="round">G</text>
<text transform="translate(184.77,229.30) scale(1.173,2.122)" font-size="10" font-weight="bold" fill="#f5a000" stroke="#f5a000" stroke-width="0.35" stroke-linejoin="round">G</text>
<text transform="translate(83.35,250.60) scale(1.216,2.122)" font-size="10" font-weight="bold" fill="#1414d2" stroke="#1414d2" stroke-width="0.35" stroke-linejoin="round">C</text>
<text transform="translate(92.23,250.60) scale(1.216,2.122)" font-size="10" font-weight="bold" fill="#12a812" stroke="#12a812" stroke-width="0.35" stroke-linejoin="round">A</text>
<text transform="translate(101.11,250.60) scale(1.216,2.122)" font-size="10" font-weight="bold" fill="#1414d2" stroke="#1414d2" stroke-width="0.35" stroke-linejoin="round">C</text>
<text transform="translate(109.99,250.60) scale(1.216,2.122)" font-size="10" font-weight="bold" fill="#12a812" stroke="#12a812" stroke-width="0.35" stroke-linejoin="round">A</text>
<text transform="translate(118.87,250.60) scale(1.216,2.122)" font-size="10" font-weight="bold" fill="#12a812" stroke="#12a812" stroke-width="0.35" stroke-linejoin="round">A</text>
<text transform="translate(127.75,250.60) scale(1.216,2.122)" font-size="10" font-weight="bold" fill="#12a812" stroke="#12a812" stroke-width="0.35" stroke-linejoin="round">A</text>
<text transform="translate(136.63,250.60) scale(1.216,2.122)" font-size="10" font-weight="bold" fill="#12a812" stroke="#12a812" stroke-width="0.35" stroke-linejoin="round">A</text>
<text transform="translate(145.51,250.60) scale(1.216,2.122)" font-size="10" font-weight="bold" fill="#12a812" stroke="#12a812" stroke-width="0.35" stroke-linejoin="round">A</text>
<text transform="translate(154.39,250.60) scale(1.216,2.122)" font-size="10" font-weight="bold" fill="#12a812" stroke="#12a812" stroke-width="0.35" stroke-linejoin="round">A</text>
<text transform="translate(163.27,250.60) scale(1.216,2.122)" font-size="10" font-weight="bold" fill="#1414d2" stroke="#1414d2" stroke-width="0.35" stroke-linejoin="round">C</text>
<text transform="translate(172.15,250.60) scale(1.437,2.122)" font-size="10" font-weight="bold" fill="#ee1111" stroke="#ee1111" stroke-width="0.35" stroke-linejoin="round">T</text>
<text transform="translate(181.03,250.60) scale(1.437,2.122)" font-size="10" font-weight="bold" fill="#ee1111" stroke="#ee1111" stroke-width="0.35" stroke-linejoin="round">T</text>
<text transform="translate(83.35,274.90) scale(1.212,0.073)" font-size="10" font-weight="bold" fill="#1414d2" stroke="#1414d2" stroke-width="0.35" stroke-linejoin="round">C</text>
<text transform="translate(83.35,274.40) scale(1.433,0.073)" font-size="10" font-weight="bold" fill="#ee1111" stroke="#ee1111" stroke-width="0.35" stroke-linejoin="round">T</text>
<text transform="translate(83.35,273.90) scale(1.125,0.073)" font-size="10" font-weight="bold" fill="#f5a000" stroke="#f5a000" stroke-width="0.35" stroke-linejoin="round">G</text>
<text transform="translate(83.35,273.40) scale(1.212,0.538)" font-size="10" font-weight="bold" fill="#12a812" stroke="#12a812" stroke-width="0.35" stroke-linejoin="round">A</text>
<text transform="translate(92.20,274.90) scale(1.212,0.073)" font-size="10" font-weight="bold" fill="#1414d2" stroke="#1414d2" stroke-width="0.35" stroke-linejoin="round">C</text>
<text transform="translate(92.20,274.40) scale(1.433,0.073)" font-size="10" font-weight="bold" fill="#ee1111" stroke="#ee1111" stroke-width="0.35" stroke-linejoin="round">T</text>
<text transform="translate(92.20,273.90) scale(1.125,0.073)" font-size="10" font-weight="bold" fill="#f5a000" stroke="#f5a000" stroke-width="0.35" stroke-linejoin="round">G</text>
<text transform="translate(92.20,273.40) scale(1.212,0.538)" font-size="10" font-weight="bold" fill="#12a812" stroke="#12a812" stroke-width="0.35" stroke-linejoin="round">A</text>
<text transform="translate(101.05,274.90) scale(1.212,0.073)" font-size="10" font-weight="bold" fill="#1414d2" stroke="#1414d2" stroke-width="0.35" stroke-linejoin="round">C</text>
<text transform="translate(101.05,274.40) scale(1.433,0.073)" font-size="10" font-weight="bold" fill="#ee1111" stroke="#ee1111" stroke-width="0.35" stroke-linejoin="round">T</text>
<text transform="translate(101.05,273.90) scale(1.125,0.073)" font-size="10" font-weight="bold" fill="#f5a000" stroke="#f5a000" stroke-width="0.35" stroke-linejoin="round">G</text>
<text transform="translate(101.05,273.40) scale(1.212,0.538)" font-size="10" font-weight="bold" fill="#12a812" stroke="#12a812" stroke-width="0.35" stroke-linejoin="round">A</text>
<text transform="translate(109.90,274.90) scale(1.212,0.073)" font-size="10" font-weight="bold" fill="#1414d2" stroke="#1414d2" stroke-width="0.35" stroke-linejoin="round">C</text>
<text transform="translate(109.90,274.40) scale(1.212,0.073)" font-size="10" font-weight="bold" fill="#12a812" stroke="#12a812" stroke-width="0.35" stroke-linejoin="round">A</text>
<text transform="translate(109.90,273.90) scale(1.433,0.073)" font-size="10" font-weight="bold" fill="#ee1111" stroke="#ee1111" stroke-width="0.35" stroke-linejoin="round">T</text>
<text transform="translate(109.90,273.40) scale(1.125,0.538)" font-size="10" font-weight="bold" fill="#f5a000" stroke="#f5a000" stroke-width="0.35" stroke-linejoin="round">G</text>
<text transform="translate(118.75,274.90) scale(1.212,0.073)" font-size="10" font-weight="bold" fill="#1414d2" stroke="#1414d2" stroke-width="0.35" stroke-linejoin="round">C</text>
<text transform="translate(118.75,274.40) scale(1.433,0.073)" font-size="10" font-weight="bold" fill="#ee1111" stroke="#ee1111" stroke-width="0.35" stroke-linejoin="round">T</text>
<text transform="translate(118.75,273.90) scale(1.125,0.073)" font-size="10" font-weight="bold" fill="#f5a000" stroke="#f5a000" stroke-width="0.35" stroke-linejoin="round">G</text>
<text transform="translate(118.75,273.40) scale(1.212,0.538)" font-size="10" font-weight="bold" fill="#12a812" stroke="#12a812" stroke-width="0.35" stroke-linejoin="round">A</text>
<text transform="translate(127.60,274.90) scale(1.212,0.073)" font-size="10" font-weight="bold" fill="#12a812" stroke="#12a812" stroke-width="0.35" stroke-linejoin="round">A</text>
<text transform="translate(127.60,274.40) scale(1.212,0.073)" font-size="10" font-weight="bold" fill="#1414d2" stroke="#1414d2" stroke-width="0.35" stroke-linejoin="round">C</text>
<text transform="translate(127.60,273.90) scale(1.125,0.073)" font-size="10" font-weight="bold" fill="#f5a000" stroke="#f5a000" stroke-width="0.35" stroke-linejoin="round">G</text>
<text transform="translate(127.60,273.40) scale(1.433,0.538)" font-size="10" font-weight="bold" fill="#ee1111" stroke="#ee1111" stroke-width="0.35" stroke-linejoin="round">T</text>
<text transform="translate(136.45,274.90) scale(1.212,0.073)" font-size="10" font-weight="bold" fill="#12a812" stroke="#12a812" stroke-width="0.35" stroke-linejoin="round">A</text>
<text transform="translate(136.45,274.40) scale(1.212,0.073)" font-size="10" font-weight="bold" fill="#1414d2" stroke="#1414d2" stroke-width="0.35" stroke-linejoin="round">C</text>
<text transform="translate(136.45,273.90) scale(1.125,0.073)" font-size="10" font-weight="bold" fill="#f5a000" stroke="#f5a000" stroke-width="0.35" stroke-linejoin="round">G</text>
<text transform="translate(136.45,273.40) scale(1.433,0.538)" font-size="10" font-weight="bold" fill="#ee1111" stroke="#ee1111" stroke-width="0.35" stroke-linejoin="round">T</text>
<text transform="translate(145.30,274.90) scale(1.212,0.073)" font-size="10" font-weight="bold" fill="#12a812" stroke="#12a812" stroke-width="0.35" stroke-linejoin="round">A</text>
<text transform="translate(145.30,274.40) scale(1.212,0.073)" font-size="10" font-weight="bold" fill="#1414d2" stroke="#1414d2" stroke-width="0.35" stroke-linejoin="round">C</text>
<text transform="translate(145.30,273.90) scale(1.125,0.073)" font-size="10" font-weight="bold" fill="#f5a000" stroke="#f5a000" stroke-width="0.35" stroke-linejoin="round">G</text>
<text transform="translate(145.30,273.40) scale(1.433,0.538)" font-size="10" font-weight="bold" fill="#ee1111" stroke="#ee1111" stroke-width="0.35" stroke-linejoin="round">T</text>
<text transform="translate(154.15,274.90) scale(1.212,0.073)" font-size="10" font-weight="bold" fill="#12a812" stroke="#12a812" stroke-width="0.35" stroke-linejoin="round">A</text>
<text transform="translate(154.15,274.40) scale(1.212,0.073)" font-size="10" font-weight="bold" fill="#1414d2" stroke="#1414d2" stroke-width="0.35" stroke-linejoin="round">C</text>
<text transform="translate(154.15,273.90) scale(1.125,0.073)" font-size="10" font-weight="bold" fill="#f5a000" stroke="#f5a000" stroke-width="0.35" stroke-linejoin="round">G</text>
<text transform="translate(154.15,273.40) scale(1.433,0.538)" font-size="10" font-weight="bold" fill="#ee1111" stroke="#ee1111" stroke-width="0.35" stroke-linejoin="round">T</text>
<text transform="translate(163.00,274.90) scale(1.212,0.073)" font-size="10" font-weight="bold" fill="#1414d2" stroke="#1414d2" stroke-width="0.35" stroke-linejoin="round">C</text>
<text transform="translate(163.00,274.40) scale(1.433,0.073)" font-size="10" font-weight="bold" fill="#ee1111" stroke="#ee1111" stroke-width="0.35" stroke-linejoin="round">T</text>
<text transform="translate(163.00,273.90) scale(1.125,0.073)" font-size="10" font-weight="bold" fill="#f5a000" stroke="#f5a000" stroke-width="0.35" stroke-linejoin="round">G</text>
<text transform="translate(163.00,273.40) scale(1.212,0.538)" font-size="10" font-weight="bold" fill="#12a812" stroke="#12a812" stroke-width="0.35" stroke-linejoin="round">A</text>
<text transform="translate(83.35,297.60) scale(1.216,0.494)" font-size="10" font-weight="bold" fill="#1414d2" stroke="#1414d2" stroke-width="0.35" stroke-linejoin="round">C</text>
<text transform="translate(83.35,294.20) scale(1.437,1.977)" font-size="10" font-weight="bold" fill="#ee1111" stroke="#ee1111" stroke-width="0.35" stroke-linejoin="round">T</text>
<text transform="translate(92.23,297.60) scale(1.216,0.233)" font-size="10" font-weight="bold" fill="#1414d2" stroke="#1414d2" stroke-width="0.35" stroke-linejoin="round">C</text>
<text transform="translate(92.23,296.00) scale(1.437,0.523)" font-size="10" font-weight="bold" fill="#ee1111" stroke="#ee1111" stroke-width="0.35" stroke-linejoin="round">T</text>
<text transform="translate(92.23,292.40) scale(1.216,1.453)" font-size="10" font-weight="bold" fill="#12a812" stroke="#12a812" stroke-width="0.35" stroke-linejoin="round">A</text>
<text transform="translate(101.11,297.60) scale(1.216,0.465)" font-size="10" font-weight="bold" fill="#1414d2" stroke="#1414d2" stroke-width="0.35" stroke-linejoin="round">C</text>
<text transform="translate(101.11,294.40) scale(1.437,0.552)" font-size="10" font-weight="bold" fill="#ee1111" stroke="#ee1111" stroke-width="0.35" stroke-linejoin="round">T</text>
<text transform="translate(101.11,290.60) scale(1.216,1.047)" font-size="10" font-weight="bold" fill="#12a812" stroke="#12a812" stroke-width="0.35" stroke-linejoin="round">A</text>
<text transform="translate(109.99,297.60) scale(1.216,0.320)" font-size="10" font-weight="bold" fill="#1414d2" stroke="#1414d2" stroke-width="0.35" stroke-linejoin="round">C</text>
<text transform="translate(109.99,295.40) scale(1.437,2.151)" font-size="10" font-weight="bold" fill="#ee1111" stroke="#ee1111" stroke-width="0.35" stroke-linejoin="round">T</text>
<text transform="translate(118.87,297.60) scale(1.216,0.116)" font-size="10" font-weight="bold" fill="#12a812" stroke="#12a812" stroke-width="0.35" stroke-linejoin="round">A</text>
<text transform="translate(118.87,296.80) scale(1.437,2.355)" font-size="10" font-weight="bold" fill="#ee1111" stroke="#ee1111" stroke-width="0.35" stroke-linejoin="round">T</text>
<text transform="translate(127.75,297.60) scale(1.129,0.436)" font-size="10" font-weight="bold" fill="#f5a000" stroke="#f5a000" stroke-width="0.35" stroke-linejoin="round">G</text>
<text transform="translate(127.75,294.60) scale(1.216,1.919)" font-size="10" font-weight="bold" fill="#12a812" stroke="#12a812" stroke-width="0.35" stroke-linejoin="round">A</text>
<text transform="translate(136.63,297.60) scale(1.216,0.494)" font-size="10" font-weight="bold" fill="#12a812" stroke="#12a812" stroke-width="0.35" stroke-linejoin="round">A</text>
<text transform="translate(136.63,294.20) scale(1.437,1.977)" font-size="10" font-weight="bold" fill="#ee1111" stroke="#ee1111" stroke-width="0.35" stroke-linejoin="round">T</text>
<text transform="translate(145.51,297.60) scale(1.216,0.203)" font-size="10" font-weight="bold" fill="#1414d2" stroke="#1414d2" stroke-width="0.35" stroke-linejoin="round">C</text>
<text transform="translate(145.51,296.20) scale(1.437,2.238)" font-size="10" font-weight="bold" fill="#ee1111" stroke="#ee1111" stroke-width="0.35" stroke-linejoin="round">T</text>
<text transform="translate(154.39,297.60) scale(1.129,0.116)" font-size="10" font-weight="bold" fill="#f5a000" stroke="#f5a000" stroke-width="0.35" stroke-linejoin="round">G</text>
<text transform="translate(154.39,296.80) scale(1.216,2.297)" font-size="10" font-weight="bold" fill="#12a812" stroke="#12a812" stroke-width="0.35" stroke-linejoin="round">A</text>
<text transform="translate(163.27,297.60) scale(1.216,0.640)" font-size="10" font-weight="bold" fill="#12a812" stroke="#12a812" stroke-width="0.35" stroke-linejoin="round">A</text>
<text transform="translate(163.27,293.20) scale(1.437,0.669)" font-size="10" font-weight="bold" fill="#ee1111" stroke="#ee1111" stroke-width="0.35" stroke-linejoin="round">T</text>
<text transform="translate(163.27,288.60) scale(1.216,1.105)" font-size="10" font-weight="bold" fill="#1414d2" stroke="#1414d2" stroke-width="0.35" stroke-linejoin="round">C</text>
<text transform="translate(172.15,297.60) scale(1.216,0.727)" font-size="10" font-weight="bold" fill="#12a812" stroke="#12a812" stroke-width="0.35" stroke-linejoin="round">A</text>
<text transform="translate(172.15,292.60) scale(1.437,0.567)" font-size="10" font-weight="bold" fill="#ee1111" stroke="#ee1111" stroke-width="0.35" stroke-linejoin="round">T</text>
<text transform="translate(172.15,288.70) scale(1.216,1.017)" font-size="10" font-weight="bold" fill="#1414d2" stroke="#1414d2" stroke-width="0.35" stroke-linejoin="round">C</text>
<text transform="translate(181.03,297.60) scale(1.216,0.116)" font-size="10" font-weight="bold" fill="#12a812" stroke="#12a812" stroke-width="0.35" stroke-linejoin="round">A</text>
<text transform="translate(181.03,296.80) scale(1.437,2.326)" font-size="10" font-weight="bold" fill="#ee1111" stroke="#ee1111" stroke-width="0.35" stroke-linejoin="round">T</text>
<text transform="translate(82.05,322.00) scale(1.212,0.349)" font-size="10" font-weight="bold" fill="#12a812" stroke="#12a812" stroke-width="0.35" stroke-linejoin="round">A</text>
<text transform="translate(82.05,319.60) scale(1.212,0.262)" font-size="10" font-weight="bold" fill="#1414d2" stroke="#1414d2" stroke-width="0.35" stroke-linejoin="round">C</text>
<text transform="translate(82.05,317.80) scale(1.433,0.262)" font-size="10" font-weight="bold" fill="#ee1111" stroke="#ee1111" stroke-width="0.35" stroke-linejoin="round">T</text>
<text transform="translate(82.05,316.00) scale(1.125,1.686)" font-size="10" font-weight="bold" fill="#f5a000" stroke="#f5a000" stroke-width="0.35" stroke-linejoin="round">G</text>
<text transform="translate(90.90,322.00) scale(1.212,0.349)" font-size="10" font-weight="bold" fill="#12a812" stroke="#12a812" stroke-width="0.35" stroke-linejoin="round">A</text>
<text transform="translate(90.90,319.60) scale(1.125,0.262)" font-size="10" font-weight="bold" fill="#f5a000" stroke="#f5a000" stroke-width="0.35" stroke-linejoin="round">G</text>
<text transform="translate(90.90,317.80) scale(1.433,0.262)" font-size="10" font-weight="bold" fill="#ee1111" stroke="#ee1111" stroke-width="0.35" stroke-linejoin="round">T</text>
<text transform="translate(90.90,316.00) scale(1.212,1.686)" font-size="10" font-weight="bold" fill="#1414d2" stroke="#1414d2" stroke-width="0.35" stroke-linejoin="round">C</text>
<text transform="translate(99.75,322.00) scale(1.212,0.349)" font-size="10" font-weight="bold" fill="#12a812" stroke="#12a812" stroke-width="0.35" stroke-linejoin="round">A</text>
<text transform="translate(99.75,319.60) scale(1.212,0.262)" font-size="10" font-weight="bold" fill="#1414d2" stroke="#1414d2" stroke-width="0.35" stroke-linejoin="round">C</text>
<text transform="translate(99.75,317.80) scale(1.125,0.262)" font-size="10" font-weight="bold" fill="#f5a000" stroke="#f5a000" stroke-width="0.35" stroke-linejoin="round">G</text>
<text transform="translate(99.75,316.00) scale(1.433,1.686)" font-size="10" font-weight="bold" fill="#ee1111" stroke="#ee1111" stroke-width="0.35" stroke-linejoin="round">T</text>
<text transform="translate(108.60,322.00) scale(1.212,0.349)" font-size="10" font-weight="bold" fill="#12a812" stroke="#12a812" stroke-width="0.35" stroke-linejoin="round">A</text>
<text transform="translate(108.60,319.60) scale(1.212,0.262)" font-size="10" font-weight="bold" fill="#1414d2" stroke="#1414d2" stroke-width="0.35" stroke-linejoin="round">C</text>
<text transform="translate(108.60,317.80) scale(1.125,0.262)" font-size="10" font-weight="bold" fill="#f5a000" stroke="#f5a000" stroke-width="0.35" stroke-linejoin="round">G</text>
<text transform="translate(108.60,316.00) scale(1.433,1.686)" font-size="10" font-weight="bold" fill="#ee1111" stroke="#ee1111" stroke-width="0.35" stroke-linejoin="round">T</text>
<text transform="translate(117.45,322.00) scale(1.212,0.349)" font-size="10" font-weight="bold" fill="#12a812" stroke="#12a812" stroke-width="0.35" stroke-linejoin="round">A</text>
<text transform="translate(117.45,319.60) scale(1.212,0.262)" font-size="10" font-weight="bold" fill="#1414d2" stroke="#1414d2" stroke-width="0.35" stroke-linejoin="round">C</text>
<text transform="translate(117.45,317.80) scale(1.433,0.262)" font-size="10" font-weight="bold" fill="#ee1111" stroke="#ee1111" stroke-width="0.35" stroke-linejoin="round">T</text>
<text transform="translate(117.45,316.00) scale(1.125,1.686)" font-size="10" font-weight="bold" fill="#f5a000" stroke="#f5a000" stroke-width="0.35" stroke-linejoin="round">G</text>
<text transform="translate(126.30,322.00) scale(1.212,0.349)" font-size="10" font-weight="bold" fill="#12a812" stroke="#12a812" stroke-width="0.35" stroke-linejoin="round">A</text>
<text transform="translate(126.30,319.60) scale(1.212,0.262)" font-size="10" font-weight="bold" fill="#1414d2" stroke="#1414d2" stroke-width="0.35" stroke-linejoin="round">C</text>
<text transform="translate(126.30,317.80) scale(1.125,0.262)" font-size="10" font-weight="bold" fill="#f5a000" stroke="#f5a000" stroke-width="0.35" stroke-linejoin="round">G</text>
<text transform="translate(126.30,316.00) scale(1.433,1.686)" font-size="10" font-weight="bold" fill="#ee1111" stroke="#ee1111" stroke-width="0.35" stroke-linejoin="round">T</text>
<text transform="translate(135.15,322.00) scale(1.212,0.349)" font-size="10" font-weight="bold" fill="#12a812" stroke="#12a812" stroke-width="0.35" stroke-linejoin="round">A</text>
<text transform="translate(135.15,319.60) scale(1.212,0.262)" font-size="10" font-weight="bold" fill="#1414d2" stroke="#1414d2" stroke-width="0.35" stroke-linejoin="round">C</text>
<text transform="translate(135.15,317.80) scale(1.433,0.262)" font-size="10" font-weight="bold" fill="#ee1111" stroke="#ee1111" stroke-width="0.35" stroke-linejoin="round">T</text>
<text transform="translate(135.15,316.00) scale(1.212,1.686)" font-size="10" font-weight="bold" fill="#12a812" stroke="#12a812" stroke-width="0.35" stroke-linejoin="round">A</text>
<text transform="translate(144.00,322.00) scale(1.212,0.349)" font-size="10" font-weight="bold" fill="#12a812" stroke="#12a812" stroke-width="0.35" stroke-linejoin="round">A</text>
<text transform="translate(144.00,319.60) scale(1.212,0.262)" font-size="10" font-weight="bold" fill="#1414d2" stroke="#1414d2" stroke-width="0.35" stroke-linejoin="round">C</text>
<text transform="translate(144.00,317.80) scale(1.433,0.262)" font-size="10" font-weight="bold" fill="#ee1111" stroke="#ee1111" stroke-width="0.35" stroke-linejoin="round">T</text>
<text transform="translate(144.00,316.00) scale(1.125,1.686)" font-size="10" font-weight="bold" fill="#f5a000" stroke="#f5a000" stroke-width="0.35" stroke-linejoin="round">G</text>
<text transform="translate(82.45,343.80) scale(1.138,0.378)" font-size="10" font-weight="bold" fill="#f5a000" stroke="#f5a000" stroke-width="0.35" stroke-linejoin="round">G</text>
<text transform="translate(82.45,341.20) scale(1.449,1.076)" font-size="10" font-weight="bold" fill="#ee1111" stroke="#ee1111" stroke-width="0.35" stroke-linejoin="round">T</text>
<text transform="translate(82.45,333.80) scale(1.225,1.076)" font-size="10" font-weight="bold" fill="#12a812" stroke="#12a812" stroke-width="0.35" stroke-linejoin="round">A</text>
<text transform="translate(91.40,343.80) scale(1.225,0.436)" font-size="10" font-weight="bold" fill="#1414d2" stroke="#1414d2" stroke-width="0.35" stroke-linejoin="round">C</text>
<text transform="translate(91.40,340.80) scale(1.225,0.727)" font-size="10" font-weight="bold" fill="#12a812" stroke="#12a812" stroke-width="0.35" stroke-linejoin="round">A</text>
<text transform="translate(91.40,335.80) scale(1.449,1.366)" font-size="10" font-weight="bold" fill="#ee1111" stroke="#ee1111" stroke-width="0.35" stroke-linejoin="round">T</text>
<text transform="translate(100.35,343.80) scale(1.449,0.203)" font-size="10" font-weight="bold" fill="#ee1111" stroke="#ee1111" stroke-width="0.35" stroke-linejoin="round">T</text>
<text transform="translate(100.35,342.40) scale(1.225,2.267)" font-size="10" font-weight="bold" fill="#12a812" stroke="#12a812" stroke-width="0.35" stroke-linejoin="round">A</text>
<text transform="translate(109.30,343.80) scale(1.225,0.291)" font-size="10" font-weight="bold" fill="#12a812" stroke="#12a812" stroke-width="0.35" stroke-linejoin="round">A</text>
<text transform="translate(109.30,341.80) scale(1.225,0.494)" font-size="10" font-weight="bold" fill="#1414d2" stroke="#1414d2" stroke-width="0.35" stroke-linejoin="round">C</text>
<text transform="translate(109.30,338.40) scale(1.449,1.715)" font-size="10" font-weight="bold" fill="#ee1111" stroke="#ee1111" stroke-width="0.35" stroke-linejoin="round">T</text>
<text transform="translate(118.25,343.80) scale(1.225,0.233)" font-size="10" font-weight="bold" fill="#12a812" stroke="#12a812" stroke-width="0.35" stroke-linejoin="round">A</text>
<text transform="translate(118.25,342.20) scale(1.449,0.203)" font-size="10" font-weight="bold" fill="#ee1111" stroke="#ee1111" stroke-width="0.35" stroke-linejoin="round">T</text>
<text transform="translate(118.25,340.80) scale(1.225,2.035)" font-size="10" font-weight="bold" fill="#1414d2" stroke="#1414d2" stroke-width="0.35" stroke-linejoin="round">C</text>
<text transform="translate(127.20,343.80) scale(1.449,0.174)" font-size="10" font-weight="bold" fill="#ee1111" stroke="#ee1111" stroke-width="0.35" stroke-linejoin="round">T</text>
<text transform="translate(127.20,342.60) scale(1.225,0.378)" font-size="10" font-weight="bold" fill="#12a812" stroke="#12a812" stroke-width="0.35" stroke-linejoin="round">A</text>
<text transform="translate(127.20,340.00) scale(1.225,1.919)" font-size="10" font-weight="bold" fill="#1414d2" stroke="#1414d2" stroke-width="0.35" stroke-linejoin="round">C</text>
<text transform="translate(136.15,343.80) scale(1.138,0.145)" font-size="10" font-weight="bold" fill="#f5a000" stroke="#f5a000" stroke-width="0.35" stroke-linejoin="round">G</text>
<text transform="translate(136.15,342.80) scale(1.225,0.349)" font-size="10" font-weight="bold" fill="#12a812" stroke="#12a812" stroke-width="0.35" stroke-linejoin="round">A</text>
<text transform="translate(136.15,340.40) scale(1.449,2.006)" font-size="10" font-weight="bold" fill="#ee1111" stroke="#ee1111" stroke-width="0.35" stroke-linejoin="round">T</text>
<text transform="translate(145.10,343.80) scale(1.449,0.174)" font-size="10" font-weight="bold" fill="#ee1111" stroke="#ee1111" stroke-width="0.35" stroke-linejoin="round">T</text>
<text transform="translate(145.10,342.60) scale(1.225,2.326)" font-size="10" font-weight="bold" fill="#12a812" stroke="#12a812" stroke-width="0.35" stroke-linejoin="round">A</text>
<text transform="translate(154.05,343.80) scale(1.449,0.145)" font-size="10" font-weight="bold" fill="#ee1111" stroke="#ee1111" stroke-width="0.35" stroke-linejoin="round">T</text>
<text transform="translate(154.05,342.80) scale(1.225,2.384)" font-size="10" font-weight="bold" fill="#12a812" stroke="#12a812" stroke-width="0.35" stroke-linejoin="round">A</text>
<text transform="translate(163.00,343.80) scale(1.449,0.233)" font-size="10" font-weight="bold" fill="#ee1111" stroke="#ee1111" stroke-width="0.35" stroke-linejoin="round">T</text>
<text transform="translate(163.00,342.20) scale(1.225,1.017)" font-size="10" font-weight="bold" fill="#12a812" stroke="#12a812" stroke-width="0.35" stroke-linejoin="round">A</text>
<text transform="translate(163.00,335.20) scale(1.225,1.250)" font-size="10" font-weight="bold" fill="#1414d2" stroke="#1414d2" stroke-width="0.35" stroke-linejoin="round">C</text>
<text transform="translate(171.95,343.80) scale(1.225,0.203)" font-size="10" font-weight="bold" fill="#12a812" stroke="#12a812" stroke-width="0.35" stroke-linejoin="round">A</text>
<text transform="translate(171.95,342.40) scale(1.225,0.959)" font-size="10" font-weight="bold" fill="#1414d2" stroke="#1414d2" stroke-width="0.35" stroke-linejoin="round">C</text>
<text transform="translate(171.95,335.80) scale(1.449,1.337)" font-size="10" font-weight="bold" fill="#ee1111" stroke="#ee1111" stroke-width="0.35" stroke-linejoin="round">T</text>
<text transform="translate(180.90,343.80) scale(1.225,0.378)" font-size="10" font-weight="bold" fill="#1414d2" stroke="#1414d2" stroke-width="0.35" stroke-linejoin="round">C</text>
<text transform="translate(180.90,341.20) scale(1.225,0.814)" font-size="10" font-weight="bold" fill="#12a812" stroke="#12a812" stroke-width="0.35" stroke-linejoin="round">A</text>
<text transform="translate(180.90,335.60) scale(1.449,1.308)" font-size="10" font-weight="bold" fill="#ee1111" stroke="#ee1111" stroke-width="0.35" stroke-linejoin="round">T</text>
</svg>
</body></html>
